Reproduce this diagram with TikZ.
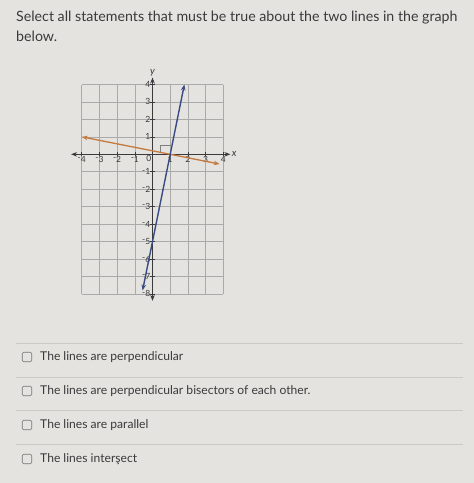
\documentclass[tikz,border=0pt]{standalone}
\usepackage{fontspec}
\setmainfont{Lato}
\usetikzlibrary{arrows.meta}
\definecolor{paper}{RGB}{229,227,223}
\definecolor{ink}{RGB}{58,58,60}
\definecolor{rule}{RGB}{204,202,198}
\definecolor{gridc}{RGB}{170,170,170}
\definecolor{navy}{RGB}{58,74,130}
\definecolor{rust}{RGB}{196,122,62}
\begin{document}
\begin{tikzpicture}[x=1pt,y=-1pt,
	tick/.style={font=\fontsize{8.5}{9}\selectfont,text=ink,inner sep=1pt},
	box/.style={draw=ink!70,rounded corners=1.2pt,minimum size=9.5pt,inner sep=0pt,line width=0.6pt},
	answer/.style={anchor=west,text=ink,font=\fontsize{12.1}{14}\selectfont,inner sep=0pt},
	tips/.style={{Stealth[length=6pt,width=4.5pt]}-{Stealth[length=6pt,width=4.5pt]}}]
	\fill[paper] (0,0) rectangle (474,483);
	\useasboundingbox (0,0) rectangle (474,483);
	\node[anchor=north west,text=ink,align=left,font=\fontsize{14.2}{20}\selectfont,inner sep=0pt] (question) at (16,11)
		{Select all statements that must be true about the two lines in the graph\\below.};
	% the graph
	\begin{scope}[shift={(152.5,154.3)},x=17.7pt,y=17.45pt]
		\draw[gridc,line width=0.6pt,step={(1,1)}] (-4,-8) grid (4,4);
		\coordinate (xl) at (-4.6,0);
		\coordinate (xr) at (4.4,0);
		\coordinate (yb) at (0,-8.4);
		\coordinate (yt) at (0,4.4);
		\draw[tips,ink,line width=0.8pt] (xl) -- (xr) node[right,inner sep=1pt,text=ink,font=\fontsize{10}{10}\selectfont] (xlab) {\textit{x}};
		\draw[tips,ink,line width=0.8pt] (yb) -- (yt) node[above,inner sep=1pt,text=ink,font=\fontsize{10}{10}\selectfont] (ylab) {\textit{y}};
		\foreach \n in {-4,...,-1,1,2,...,4}
			\draw[ink,line width=0.6pt] (\n,-0.12) -- (\n,0.12);
		\foreach \n in {-8,...,-1,1,2,...,4}
			\draw[ink,line width=0.6pt] (-0.12,\n) -- (0.12,\n);
		\foreach \n in {-4,-3,-2,-1}
			\node[tick,below=1pt] (xn\n) at (\n,0) {\raisebox{0.4ex}{-}\the\numexpr-\n\relax};
		\foreach \n in {1,2,3,4}
			\node[tick,below=1pt] (xp\n) at (\n,0) {\n};
		\node[tick,below left] (zero) at (0,0) {0};
		\foreach \n in {1,2,3,4}
			\node[tick,left=1pt] (yp\n) at (0,\n) {\n};
		\foreach \n in {-1,-2,...,-8}
			\node[tick,left=1pt] (yn\n) at (0,\n) {\raisebox{0.4ex}{-}\the\numexpr-\n\relax};
		\coordinate (o1) at (-4,1);
		\coordinate (o2) at (3.8,-0.56);
		\coordinate (b1) at (-0.56,-7.8);
		\coordinate (b2) at (1.8,4);
		\draw[tips,rust,line width=1.3pt] (o1) -- (o2);
		\draw[tips,navy,line width=1.4pt] (b1) -- (b2);
		\draw[gray,line width=0.7pt] (0.46,0.108) -- (0.46,0.53) -- (1.106,0.53);
	\end{scope}
	% answer choices
	\foreach \y [count=\k] in {343,377,410,444}
		\draw[rule,line width=0.7pt] (16,\y) -- (463,\y);
	\node[box] (c1) at (27,357) {};
	\node[answer] (a1) at (40,357) {The lines are perpendicular};
	\node[box] (c2) at (27,391) {};
	\node[answer] (a2) at (40,391) {The lines are perpendicular bisectors of each other.};
	\node[box] (c3) at (27,425) {};
	\node[answer] (a3) at (40,425) {The lines are parallel};
	\node[box] (c4) at (27,459) {};
	\node[answer] (a4) at (40,459) {The lines interşect};
\end{tikzpicture}
\end{document}
